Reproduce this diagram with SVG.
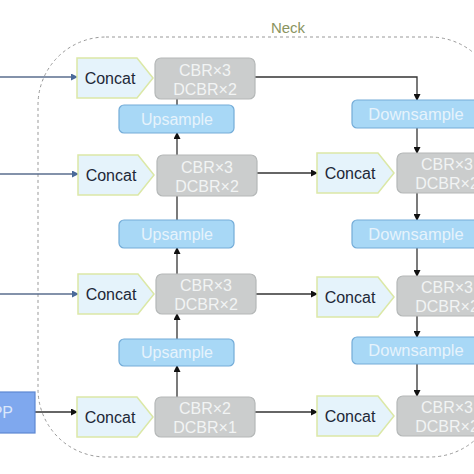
<svg xmlns="http://www.w3.org/2000/svg" width="474" height="474" viewBox="0 0 474 474">
<defs>
<style>
.concat{fill:#e5f3fb;stroke:#dbe8a6;stroke-width:1.5}
.cbr{fill:#cbcdcd;stroke:#b5b8b8;stroke-width:1.2}
.samp{fill:#a8d8f6;stroke:#74acd8;stroke-width:1.2}
.spp{fill:#7fa8ee;stroke:#5d88d2;stroke-width:1.2}
.t{font-family:"Liberation Sans",Arial,sans-serif;font-size:16px;text-anchor:middle}
.tc{fill:#1d2838}
.tw{fill:#f2f4f4}
.tb{fill:#e6f3fc}
.line{fill:none;stroke:#333;stroke-width:1.3}
.bline{fill:none;stroke:#5a6e8e;stroke-width:1.3}
</style>
<marker id="ah" markerWidth="7" markerHeight="7" refX="6" refY="3.5" orient="auto" markerUnits="userSpaceOnUse">
<path d="M0,0 L7,3.5 L0,7 Z" fill="#111"/>
</marker>
<marker id="ahb" markerWidth="7" markerHeight="7" refX="6" refY="3.5" orient="auto" markerUnits="userSpaceOnUse">
<path d="M0,0 L7,3.5 L0,7 Z" fill="#4a6a9a"/>
</marker>
</defs>
<rect width="474" height="474" fill="#ffffff"/>
<rect x="38" y="37" width="460" height="420" rx="68" ry="68" fill="none" stroke="#999" stroke-width="1" stroke-dasharray="3 3"/>
<text x="288" y="33" style="font-family:'Liberation Sans',Arial,sans-serif;font-size:15px;text-anchor:middle;fill:#8a9460">Neck</text>

<g id="connectors">
<line class="bline" x1="0" y1="77" x2="77" y2="77" marker-end="url(#ahb)"/>
<line class="bline" x1="0" y1="174" x2="78" y2="174" marker-end="url(#ahb)"/>
<line class="bline" x1="0" y1="294" x2="78" y2="294" marker-end="url(#ahb)"/>
<line class="line" x1="35" y1="412" x2="77" y2="412" marker-end="url(#ah)"/>
<line class="line" x1="177" y1="99" x2="177" y2="105"/>
<line class="line" x1="177" y1="155" x2="177" y2="133" marker-end="url(#ah)"/>
<line class="line" x1="177" y1="196" x2="177" y2="220"/>
<line class="line" x1="177" y1="274" x2="177" y2="248" marker-end="url(#ah)"/>
<line class="line" x1="177" y1="339" x2="177" y2="314" marker-end="url(#ah)"/>
<line class="line" x1="177" y1="397" x2="177" y2="366" marker-end="url(#ah)"/>
<path class="line" d="M255,77 H417 V100" marker-end="url(#ah)"/>
<line class="line" x1="417" y1="128" x2="417" y2="153" marker-end="url(#ah)"/>
<line class="line" x1="417" y1="193" x2="417" y2="220" marker-end="url(#ah)"/>
<line class="line" x1="417" y1="248" x2="417" y2="276" marker-end="url(#ah)"/>
<line class="line" x1="417" y1="316" x2="417" y2="337" marker-end="url(#ah)"/>
<line class="line" x1="417" y1="364" x2="417" y2="396" marker-end="url(#ah)"/>
<line class="line" x1="257" y1="173" x2="317" y2="173" marker-end="url(#ah)"/>
<line class="line" x1="256" y1="294" x2="317" y2="294" marker-end="url(#ah)"/>
<line class="line" x1="255" y1="412" x2="317" y2="412" marker-end="url(#ah)"/>
</g>

<g id="spp">
<rect class="spp" x="-40" y="392" width="75" height="41"/>
<text class="t" x="-3" y="418" style="fill:#dbe7fb">SPP</text>
</g>

<g id="concat1"><path class="concat" d="M77,58 H137 L153,78 L137,98 H77 Z"/><text class="t tc" x="110" y="84">Concat</text></g>
<g id="concat2"><path class="concat" d="M78,155 H138 L154,175 L138,195 H78 Z"/><text class="t tc" x="111" y="181">Concat</text></g>
<g id="concat3"><path class="concat" d="M78,274 H138 L154,294 L138,314 H78 Z"/><text class="t tc" x="111" y="300">Concat</text></g>
<g id="concat4"><path class="concat" d="M77,397 H137 L153,417 L137,437 H77 Z"/><text class="t tc" x="110" y="423">Concat</text></g>

<g id="cbr1"><rect class="cbr" x="155" y="58" width="100" height="41" rx="6"/><text class="t tw" x="205" y="76">CBR×3</text><text class="t tw" x="205" y="95">DCBR×2</text></g>
<g id="cbr2"><rect class="cbr" x="157" y="155" width="100" height="41" rx="6"/><text class="t tw" x="207" y="173">CBR×3</text><text class="t tw" x="207" y="192">DCBR×2</text></g>
<g id="cbr3"><rect class="cbr" x="156" y="274" width="100" height="40" rx="6"/><text class="t tw" x="206" y="291">CBR×3</text><text class="t tw" x="206" y="310">DCBR×2</text></g>
<g id="cbr4"><rect class="cbr" x="155" y="397" width="100" height="40" rx="6"/><text class="t tw" x="205" y="414">CBR×2</text><text class="t tw" x="205" y="433">DCBR×1</text></g>

<g id="up1"><rect class="samp" x="119" y="105" width="115" height="28" rx="5"/><text class="t tb" x="177" y="125">Upsample</text></g>
<g id="up2"><rect class="samp" x="119" y="220" width="115" height="28" rx="5"/><text class="t tb" x="177" y="240">Upsample</text></g>
<g id="up3"><rect class="samp" x="119" y="339" width="115" height="27" rx="5"/><text class="t tb" x="177" y="358">Upsample</text></g>

<g id="down1"><rect class="samp" x="352" y="100" width="130" height="28" rx="5"/><text class="t tb" x="416" y="120" style="font-size:16.5px">Downsample</text></g>
<g id="down2"><rect class="samp" x="352" y="220" width="130" height="28" rx="5"/><text class="t tb" x="416" y="240" style="font-size:16.5px">Downsample</text></g>
<g id="down3"><rect class="samp" x="352" y="337" width="130" height="27" rx="5"/><text class="t tb" x="416" y="356" style="font-size:16.5px">Downsample</text></g>

<g id="concat5"><path class="concat" d="M317,153 H378 L394,173 L378,193 H317 Z"/><text class="t tc" x="350" y="179">Concat</text></g>
<g id="concat6"><path class="concat" d="M317,277 H378 L394,297 L378,317 H317 Z"/><text class="t tc" x="350" y="303">Concat</text></g>
<g id="concat7"><path class="concat" d="M317,396 H378 L394,416 L378,436 H317 Z"/><text class="t tc" x="350" y="422">Concat</text></g>

<g id="cbr5"><rect class="cbr" x="397" y="153" width="100" height="40" rx="6"/><text class="t tw" x="447" y="170">CBR×3</text><text class="t tw" x="447" y="189">DCBR×2</text></g>
<g id="cbr6"><rect class="cbr" x="397" y="276" width="100" height="40" rx="6"/><text class="t tw" x="447" y="293">CBR×3</text><text class="t tw" x="447" y="312">DCBR×2</text></g>
<g id="cbr7"><rect class="cbr" x="397" y="396" width="100" height="40" rx="6"/><text class="t tw" x="447" y="413">CBR×3</text><text class="t tw" x="447" y="432">DCBR×2</text></g>
</svg>
